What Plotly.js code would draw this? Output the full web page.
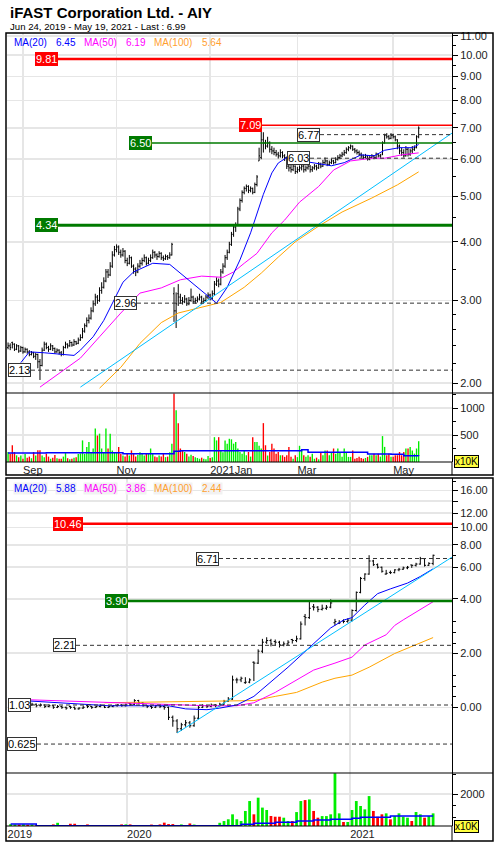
<!DOCTYPE html>
<html><head><meta charset="utf-8">
<script src="https://cdn.plot.ly/plotly-3.0.1.min.js"></script>
<style>html,body{margin:0;padding:0;background:#fff}#chart{width:500px;height:850px}</style>
</head><body><div id="chart"></div>
<script>
// ================= DATA =================
const titleText = 'iFAST Corporation Ltd. - AIY';
const subtitleText = 'Jun 24, 2019 - May 19, 2021 - Last : 6.99';
const maNames = ['MA(20)', 'MA(50)', 'MA(100)'];
const topMALast = ['6.45', '6.19', '5.64'];
const botMALast = ['5.88', '3.86', '2.44'];

// ---- daily (top chart) ----
const dailyStart = '2020-08-21';
const dOpen = [2.38,2.40,2.44,2.42,2.36,2.40,2.34,2.38,2.33,2.36,
2.33,2.30,2.32,2.28,2.30,2.22,2.18,2.35,2.42,2.38,
2.36,2.40,2.37,2.33,2.35,2.32,2.30,2.38,2.42,2.40,
2.44,2.41,2.45,2.43,2.47,2.50,2.58,2.65,2.72,2.75,
2.85,2.95,3.05,3.00,3.15,3.20,3.30,3.45,3.40,3.55,
3.75,3.85,3.90,3.80,3.75,3.82,3.65,3.60,3.70,3.55,
3.50,3.45,3.55,3.60,3.65,3.70,3.60,3.65,3.70,3.80,
3.75,3.72,3.78,3.70,3.68,3.72,3.70,3.75,3.10,2.85,
3.10,3.05,3.00,2.98,3.02,2.95,3.00,3.05,2.98,3.00,
3.02,3.05,2.98,3.00,3.05,3.08,3.03,3.10,3.25,3.30,
3.25,3.45,3.55,3.70,3.80,3.95,4.15,4.30,4.35,4.70,
4.90,5.10,5.20,5.25,5.15,5.20,5.10,5.30,5.95,6.05,
6.60,6.50,6.40,6.50,6.30,6.25,6.20,6.15,6.10,6.20,
6.10,6.05,5.80,5.75,5.70,5.80,5.65,5.70,5.75,5.80,
5.70,5.75,5.80,5.70,5.75,5.80,5.75,5.85,5.80,5.90,
5.95,5.85,5.90,5.95,5.90,6.00,6.05,6.10,6.15,6.20,
6.30,6.35,6.40,6.30,6.25,6.20,6.15,6.10,6.05,6.10,
6.00,6.05,6.10,6.05,6.15,6.10,6.15,6.50,6.75,6.70,
6.65,6.75,6.70,6.60,6.40,6.25,6.20,6.10,6.30,6.15,
6.25,6.30,6.35,6.70];
const dHigh = [2.44,2.43,2.45,2.43,2.42,2.41,2.40,2.39,2.38,2.37,
2.35,2.34,2.33,2.32,2.31,2.25,2.38,2.45,2.44,2.40,
2.43,2.41,2.38,2.37,2.36,2.34,2.40,2.45,2.43,2.47,
2.45,2.48,2.46,2.50,2.54,2.62,2.68,2.76,2.80,2.90,
3.00,3.10,3.08,3.20,3.28,3.36,3.50,3.50,3.62,3.82,
3.92,3.95,3.93,3.85,3.88,3.84,3.70,3.75,3.72,3.58,
3.53,3.60,3.66,3.70,3.76,3.72,3.70,3.76,3.85,3.82,
3.78,3.82,3.80,3.74,3.76,3.75,3.80,3.98,3.20,3.12,
3.25,3.10,3.05,3.08,3.04,3.05,3.18,3.07,3.04,3.06,
3.10,3.07,3.04,3.08,3.12,3.10,3.15,3.30,3.36,3.34,
3.50,3.60,3.75,3.85,4.00,4.20,4.35,4.40,4.75,4.95,
5.15,5.25,5.30,5.28,5.25,5.22,5.35,5.55,6.35,7.00,
6.85,6.60,6.70,6.55,6.40,6.35,6.28,6.22,6.30,6.24,
6.15,6.08,5.88,5.85,5.90,5.82,5.78,5.82,5.88,5.84,
5.82,5.88,5.83,5.80,5.86,5.84,5.92,5.90,5.98,6.05,
5.98,5.96,6.02,5.98,6.06,6.12,6.16,6.22,6.28,6.36,
6.40,6.45,6.42,6.34,6.30,6.26,6.20,6.14,6.16,6.12,
6.10,6.15,6.12,6.20,6.18,6.16,6.55,6.80,6.82,6.76,
6.82,6.80,6.74,6.62,6.45,6.35,6.30,6.40,6.35,6.32,
6.40,6.42,6.75,7.05];
const dLow = [2.36,2.35,2.37,2.34,2.35,2.32,2.33,2.31,2.32,2.31,
2.28,2.29,2.26,2.24,2.15,2.03,2.17,2.34,2.36,2.33,
2.35,2.34,2.31,2.32,2.30,2.28,2.29,2.37,2.37,2.39,
2.39,2.40,2.41,2.42,2.46,2.49,2.56,2.63,2.68,2.73,
2.83,2.92,2.95,2.98,3.10,3.18,3.28,3.35,3.38,3.52,
3.72,3.80,3.75,3.70,3.72,3.60,3.55,3.58,3.52,3.42,
3.38,3.43,3.52,3.56,3.62,3.56,3.58,3.62,3.68,3.70,
3.66,3.70,3.66,3.64,3.66,3.66,3.68,3.74,2.70,2.62,
2.92,2.95,2.94,2.96,2.92,2.93,2.98,2.95,2.95,2.97,
3.00,2.95,2.96,2.98,3.02,3.00,3.01,3.08,3.22,3.20,
3.23,3.42,3.52,3.66,3.78,3.92,4.10,4.20,4.33,4.65,
4.85,5.05,5.12,5.08,5.10,5.05,5.08,5.25,5.95,6.00,
6.20,6.30,6.35,6.20,6.15,6.12,6.08,6.02,6.05,6.03,
5.95,5.72,5.65,5.62,5.66,5.58,5.60,5.64,5.68,5.62,
5.65,5.70,5.62,5.64,5.70,5.68,5.72,5.74,5.78,5.86,
5.80,5.82,5.86,5.85,5.88,5.96,6.00,6.06,6.10,6.16,
6.24,6.30,6.25,6.18,6.14,6.10,6.04,6.00,6.02,5.96,
5.97,6.02,6.00,6.02,6.05,6.04,6.12,6.48,6.64,6.60,
6.62,6.64,6.55,6.30,6.15,6.10,6.05,6.08,6.08,6.10,
6.18,6.25,6.33,6.65];
const dClose = [2.40,2.38,2.42,2.36,2.40,2.34,2.38,2.33,2.36,2.33,
2.30,2.32,2.28,2.30,2.22,2.18,2.35,2.42,2.38,2.36,
2.40,2.37,2.33,2.35,2.32,2.30,2.38,2.42,2.40,2.44,
2.41,2.45,2.43,2.47,2.50,2.58,2.65,2.72,2.75,2.85,
2.95,3.05,3.00,3.15,3.20,3.30,3.45,3.40,3.55,3.75,
3.85,3.90,3.80,3.75,3.82,3.65,3.60,3.70,3.55,3.50,
3.45,3.55,3.60,3.65,3.70,3.60,3.65,3.70,3.80,3.75,
3.72,3.78,3.70,3.68,3.72,3.70,3.75,3.95,2.85,2.95,
3.05,3.00,2.98,3.02,2.95,3.00,3.05,2.98,3.00,3.02,
3.05,2.98,3.00,3.05,3.08,3.03,3.10,3.25,3.30,3.25,
3.45,3.55,3.70,3.80,3.95,4.15,4.30,4.35,4.70,4.90,
5.10,5.20,5.25,5.15,5.20,5.10,5.30,5.50,6.10,6.60,
6.50,6.40,6.50,6.30,6.25,6.20,6.15,6.10,6.20,6.10,
6.05,5.80,5.75,5.70,5.80,5.65,5.70,5.75,5.80,5.70,
5.75,5.80,5.70,5.75,5.80,5.75,5.85,5.80,5.90,5.95,
5.85,5.90,5.95,5.90,6.00,6.05,6.10,6.15,6.20,6.30,
6.35,6.40,6.30,6.25,6.20,6.15,6.10,6.05,6.10,6.00,
6.05,6.10,6.05,6.15,6.10,6.10,6.50,6.75,6.70,6.65,
6.75,6.70,6.60,6.40,6.25,6.20,6.10,6.30,6.15,6.25,
6.30,6.35,6.70,6.99];
// daily volume, x10K shares
const dVol = [185,154,310,185,123,90,120,60,150,80,
100,70,185,120,216,216,120,90,150,100,
60,80,130,70,60,60,100,185,70,50,
60,80,90,150,160,
400,150,280,370,185,250,620,490,525,250,185,620,250,525,215,185,180,280,
150,120,100,160,120,215,160,100,130,180,150,120,160,160,250,150,100,90,120,100,150,90,100,180,
340,1270,960,720,
250,215,185,155,100,135,110,90,75,60,80,60,50,110,75,90,
460,400,460,215,180,400,340,430,420,340,370,250,185,155,
215,125,185,100,460,370,370,300,250,
720,
310,120,185,340,250,155,185,125,125,
95,125,280,95,60,125,90,300,215,125,
95,125,95,155,60,80,50,185,125,215,
215,125,185,250,155,250,185,95,250,185,
95,95,215,60,75,95,75,60,75,95,
125,125,155,125,155,100,
480,
280,125,155,95,95,125,125,185,125,185,
250,250,280,215,155,250,385];
// moving averages: bar number (1 = first bar) and value
const dMA20Idx = [7,11,18,32,35,41,46,51,55,60,65,69,77,99,104,110,115,118,121,125,128,132,139,147,153,159,167,173,178,185,191,194];
const dMA20Val = [2.21,2.33,2.32,2.29,2.35,2.51,2.72,3.01,3.28,3.45,3.53,3.60,3.58,2.96,3.20,3.66,4.18,4.61,5.05,5.61,5.89,6.05,5.95,5.87,5.81,5.90,6.13,6.10,6.27,6.35,6.35,6.45];
const dMA50Idx = [16,26,35,44,54,63,73,82,92,102,107,112,118,125,131,138,145,147,154,162,172,178,186,194];
const dMA50Val = [1.96,2.11,2.26,2.51,2.82,3.11,3.19,3.32,3.38,3.36,3.45,3.60,3.78,4.18,4.45,4.86,5.16,5.25,5.69,5.95,6.03,6.03,6.13,6.19];
const dMA100Idx = [44,54,63,73,81,92,101,112,120,128,136,147,158,172,184,194];
const dMA100Val = [1.95,2.16,2.43,2.69,2.82,2.90,2.97,3.20,3.43,3.71,4.00,4.32,4.63,4.96,5.29,5.64];
const dVMAIdx = [1,19,55,79,82,139,142,166,170,181,187,194];
const dVMAVal = [167,173,154,197,210,228,179,179,150,142,117,115];
const topTrendStartIdx = 35;
const topTrendVals = [1.96, 6.82];
const topLevels = [9.81, 7.09, 6.50, 4.34, 6.77, 6.03, 2.96, 2.13];
const topTickVals = [2,3,4,5,6,7,8,9,10,11];
const topMinorVals = [2.2,2.4,2.6,2.8,3.5,4.5,5.5,6.5,7.5,8.5,9.5,10.5];
const topMonthTicks = ['2020-09-01','2020-11-02','2021-01-01','2021-03-01','2021-05-03'];
const topMonthText = ['Sep','Nov','2021Jan','Mar','May'];

// ---- weekly (bottom chart) ----
const weeklyStart = '2019-06-24';
const wOpen = [1.04,1.05,1.07,1.04,1.05,1.03,1.04,1.02,1.03,1.01,
1.02,1.00,1.01,1.00,1.01,1.00,0.98,0.99,1.02,1.01,
1.00,1.01,1.02,1.00,1.01,1.02,1.03,1.02,1.05,1.04,
1.09,1.06,1.02,1.01,1.00,1.02,1.01,1.00,0.88,0.84,
0.76,0.80,0.82,0.79,0.87,1.00,1.02,1.01,1.03,1.02,
1.04,1.08,1.11,1.42,1.42,1.37,1.38,1.78,1.76,2.05,
2.30,2.35,2.32,2.30,2.22,2.25,2.38,2.35,2.40,3.20,
3.15,3.62,3.60,3.50,3.55,3.60,2.95,2.93,3.02,3.00,
3.05,3.45,4.35,5.20,5.50,6.50,6.20,6.00,5.50,5.62,
5.60,5.80,5.85,5.95,6.18,6.15,6.25,6.70,6.15,6.30];
const wHigh = [1.08,1.09,1.08,1.07,1.06,1.06,1.05,1.05,1.04,1.04,
1.03,1.03,1.02,1.01,1.02,1.01,1.00,1.02,1.03,1.02,
1.02,1.04,1.03,1.02,1.03,1.04,1.04,1.05,1.06,1.11,
1.10,1.07,1.03,1.02,1.03,1.03,1.02,1.01,0.90,0.86,
0.82,0.85,0.84,0.90,1.02,1.04,1.03,1.05,1.04,1.06,
1.10,1.14,1.50,1.46,1.48,1.47,1.45,1.80,2.10,2.40,
2.45,2.40,2.38,2.34,2.32,2.36,2.40,2.50,3.00,3.30,
3.92,3.75,3.65,3.72,3.70,3.98,3.10,3.05,3.08,3.12,
3.50,4.40,5.30,5.55,7.00,6.60,6.30,6.05,5.80,5.75,
5.85,5.95,6.05,6.10,6.20,6.35,6.85,6.75,6.40,7.05];
const wLow = [1.02,1.04,1.02,1.03,1.01,1.02,1.00,1.01,0.99,1.00,
0.98,0.99,0.98,0.97,0.98,0.97,0.97,0.98,0.99,0.98,
0.99,1.00,0.99,0.99,1.00,1.01,1.01,1.01,1.02,1.03,
1.04,1.01,0.99,0.98,0.99,0.99,0.97,0.85,0.78,0.72,
0.74,0.78,0.77,0.78,0.86,0.99,0.99,1.00,1.00,1.01,
1.03,1.07,1.10,1.36,1.38,1.35,1.36,1.40,1.74,2.00,
2.25,2.18,2.20,2.15,2.18,2.20,2.26,2.30,2.38,2.85,
3.10,3.45,3.38,3.45,3.48,3.55,2.85,2.90,2.93,2.95,
3.00,3.40,4.30,5.05,5.45,6.10,5.90,5.60,5.45,5.50,
5.55,5.70,5.80,5.85,5.95,6.05,6.20,6.05,6.10,6.15];
const wClose = [1.05,1.07,1.04,1.05,1.03,1.04,1.02,1.03,1.01,1.02,
1.00,1.01,1.00,0.99,1.00,0.98,0.99,1.00,1.01,1.00,
1.01,1.02,1.00,1.01,1.02,1.03,1.02,1.03,1.04,1.09,
1.06,1.02,1.01,1.00,1.02,1.01,1.00,0.88,0.84,0.76,
0.80,0.82,0.79,0.87,1.00,1.02,1.01,1.03,1.02,1.04,
1.08,1.11,1.42,1.42,1.45,1.38,1.42,1.76,2.05,2.30,
2.35,2.25,2.30,2.22,2.25,2.30,2.35,2.40,2.90,3.15,
3.55,3.60,3.50,3.55,3.60,3.80,3.00,2.95,3.00,3.05,
3.45,4.35,5.20,5.50,6.50,6.20,6.00,5.70,5.55,5.60,
5.80,5.85,5.95,6.00,6.15,6.25,6.70,6.15,6.30,6.99];
const wVol = [120,100,90,110,80,100,40,50,30,60,
100,200,40,50,140,140,30,40,100,40,
30,50,40,30,50,40,100,100,100,40,
50,30,40,90,40,100,210,120,120,50,
100,40,160,90,40,50,30,40,60,200,
310,420,730,420,310,940,1560,730,1770,1150,
1000,625,580,580,520,310,310,870,1560,1620,
1660,940,520,620,620,730,3300,790,250,250,
1000,1560,1250,1040,1870,940,580,730,790,416,
625,790,583,520,312,875,730,520,625,790];
const wMA20Idx = [0,11,23,37,40,41,46,49,53,57,65,70,75,78,80,83,86,89,93,96,99];
const wMA20Val = [1.10,1.06,1.02,1.02,0.99,0.98,0.97,0.99,1.03,1.15,1.67,2.16,2.76,3.05,3.15,3.70,4.28,4.55,4.90,5.33,5.88];
const wMA50Idx = [0,15,23,37,46,53,57,62,66,71,76,80,83,88,90,92,99];
const wMA50Val = [1.11,1.08,1.06,1.04,1.02,1.02,1.06,1.21,1.38,1.61,1.76,1.90,2.22,2.53,2.85,3.06,3.86];
const wMA100Idx = [22,37,57,62,67,73,76,80,84,90,99];
const wMA100Val = [1.06,1.07,1.09,1.15,1.21,1.38,1.45,1.51,1.67,1.99,2.44];
const wVMAIdx = [0,6,54,57,62,67,71,75,80,82,89,99];
const wVMAVal = [125,20,104,166,229,312,375,416,479,541,625,625];
const botTrendStartIdx = 39;
const botTrendVals = [0.72, 6.83];
const botLevels = [10.46, 6.71, 3.90, 2.21, 1.03, 0.625];
const botTickVals = [1,2,4,6,8,10,12,14,16];
const botTickText = ['0.00','2.00','4.00','6.00','8.00','10.00','12.00','','16.00'];
const botMinorVals = [1.15,1.3,1.5,2.25,2.6,3,7,18];
const botYearTicks = ['2019-06-19','2020-01-01','2021-01-01'];
const botYearText = ['2019','2020','2021'];

// ================= LAYOUT HELPERS =================
const FONT = 'Liberation Sans, Arial, sans-serif';
const X = px => (px - 7) / 445;
const Y = py => 1 - py / 850;
const topRange = ['2020-08-20 12:00', '2021-06-09 16:00'];
const botRange = ['2019-06-18', '2021-06-17'];

function businessDays(start, count) {
  const out = []; const d = new Date(start + 'T00:00:00Z');
  while (out.length < count) {
    const g = d.getUTCDay();
    if (g !== 0 && g !== 6) out.push(d.toISOString().slice(0, 10));
    d.setUTCDate(d.getUTCDate() + 1);
  }
  return out;
}
function weekStarts(start, count) {
  const out = []; const d = new Date(start + 'T00:00:00Z');
  for (let i = 0; i < count; i++) { out.push(d.toISOString().slice(0, 10)); d.setUTCDate(d.getUTCDate() + 7); }
  return out;
}
const dDates = businessDays(dailyStart, dClose.length);
const wDates = weekStarts(weeklyStart, wClose.length);

const GREEN_V = '#00ee00', RED_V = '#ff0000';
const C20 = '#0000ff', C50 = '#ff00ff', C100 = '#ffa500', CTR = '#00bfff';

const traces = [];
function line(xs, ys, color, xa, ya, width, shape) {
  traces.push({type: 'scatter', mode: 'lines', x: xs, y: ys, xaxis: xa, yaxis: ya,
    line: {color: color, width: width || 1, shape: shape || 'linear'}, hoverinfo: 'skip'});
}
// --- top chart ---
line(dMA100Idx.map(i => dDates[i - 1]), dMA100Val, C100, 'x', 'y');
line(dMA50Idx.map(i => dDates[i - 1]), dMA50Val, C50, 'x', 'y');
line(dMA20Idx.map(i => dDates[i - 1]), dMA20Val, C20, 'x', 'y');
line([dDates[topTrendStartIdx - 1], topRange[1]], topTrendVals, CTR, 'x', 'y');
traces.push({type: 'ohlc', x: dDates, open: dOpen, high: dHigh, low: dLow, close: dClose,
  xaxis: 'x', yaxis: 'y', tickwidth: 0.45, hoverinfo: 'skip',
  increasing: {line: {color: '#000', width: 1}}, decreasing: {line: {color: '#000', width: 1}}});
traces.push({type: 'bar', x: dDates, y: dVol, xaxis: 'x', yaxis: 'y2', hoverinfo: 'skip',
  marker: {color: dClose.map((c, i) => c >= dOpen[i] ? GREEN_V : RED_V), line: {width: 0}}});
line(dVMAIdx.map(i => dDates[i - 1]), dVMAVal, '#0000ff', 'x', 'y2', 1.5, 'hv');
// --- bottom chart ---
line(wMA100Idx.map(i => wDates[i]), wMA100Val, C100, 'x2', 'y3');
line(wMA50Idx.map(i => wDates[i]), wMA50Val, C50, 'x2', 'y3');
line(wMA20Idx.map(i => wDates[i]), wMA20Val, C20, 'x2', 'y3');
line([wDates[botTrendStartIdx], botRange[1]], botTrendVals, CTR, 'x2', 'y3');
traces.push({type: 'ohlc', x: wDates, open: wOpen, high: wHigh, low: wLow, close: wClose,
  xaxis: 'x2', yaxis: 'y3', tickwidth: 0.35, hoverinfo: 'skip',
  increasing: {line: {color: '#000', width: 1}}, decreasing: {line: {color: '#000', width: 1}}});
traces.push({type: 'bar', x: wDates, y: wVol, xaxis: 'x2', yaxis: 'y4', hoverinfo: 'skip',
  marker: {color: wClose.map((c, i) => c >= wOpen[i] ? GREEN_V : RED_V), line: {width: 0}}});
line(wVMAIdx.map(i => wDates[i]), wVMAVal, '#0000ff', 'x2', 'y4', 1.5, 'hv');

// --- shapes & annotations ---
const shapes = [], ann = [];
const fmt = v => v.toFixed(3).replace(/0$/, '');
// [kind, line width, pixel x of the label's right edge]
const topLevelFmt = [['red',2.5,58],['red',1.5,262],['green',1.5,152],['green',3,58],['dash',1,320],['dash',1,310],['dash',1,137],['dash',1,31]];
const botLevelFmt = [['red',2.5,83],['dash',1,219],['green',2.5,128],['dash',1,76],['dash',1,31],['dash',1,37]];
function levels(vals, fmts, xa, ya) {
  vals.forEach((v, i) => {
    const [kind, w, px] = fmts[i];
    const col = kind === 'red' ? '#ff0000' : kind === 'green' ? '#007a00' : '#333';
    shapes.push({type: 'line', xref: xa + ' domain', x0: X(px), x1: 1, yref: ya, y0: v, y1: v,
      line: {color: col, width: w, dash: kind === 'dash' ? '4px,3px' : 'solid'}, layer: 'above'});
    ann.push({xref: xa + ' domain', x: X(px), xanchor: 'right', yref: ya, y: Math.log10(v), yanchor: 'middle',
      text: fmt(v), showarrow: false, borderpad: 0, borderwidth: 1,
      bgcolor: kind === 'dash' ? '#fff' : col, bordercolor: kind === 'dash' ? '#333' : col,
      font: {family: FONT, size: 11, color: kind === 'dash' ? '#000' : '#fff'}});
  });
}
levels(topLevels, topLevelFmt, 'x', 'y');
levels(botLevels, botLevelFmt, 'x2', 'y3');

const frame = {color: '#000', width: 1.5};
shapes.push({type: 'rect', xref: 'paper', yref: 'paper', x0: X(6), x1: X(493), y0: Y(475), y1: Y(33), line: frame});
shapes.push({type: 'rect', xref: 'paper', yref: 'paper', x0: X(6), x1: X(493), y0: Y(841), y1: Y(478), line: frame});
[[393, 493], [773, 493], [462, 452], [826, 452]].forEach(([py, xr]) =>
  shapes.push({type: 'line', xref: 'paper', yref: 'paper', x0: X(6), x1: X(xr), y0: Y(py), y1: Y(py), line: {color: '#000', width: 1.2}}));
[[462, 475], [826, 841]].forEach(([a, b]) =>
  shapes.push({type: 'line', xref: 'paper', yref: 'paper', x0: 1, x1: 1, y0: Y(b), y1: Y(a), line: {color: '#000', width: 1}}));

ann.push({xref: 'paper', yref: 'paper', x: X(8), y: Y(13), xanchor: 'left', yanchor: 'middle', showarrow: false,
  text: '<b>' + titleText + '</b>', font: {family: FONT, size: 15, color: '#000'}});
ann.push({xref: 'paper', yref: 'paper', x: X(8), y: Y(26), xanchor: 'left', yanchor: 'middle', showarrow: false,
  text: subtitleText, font: {family: FONT, size: 9.6, color: '#000'}});
const legX = [13, 55, 83, 125, 153, 201];
const legCol = [C20, C20, C50, C50, '#ffa030', '#ffa030'];
function legend(vals, py, bg) {
  const items = [maNames[0], vals[0], maNames[1], vals[1], maNames[2], vals[2]];
  items.forEach((t, i) => ann.push({xref: 'paper', yref: 'paper', x: X(legX[i]), y: Y(py), xanchor: 'left', yanchor: 'middle',
    showarrow: false, text: t, bgcolor: bg, borderpad: 0, font: {family: FONT, size: 10, color: legCol[i]}}));
}
legend(topMALast, 42, 'rgba(0,0,0,0)');
legend(botMALast, 488, '#f2f2f2');
[461, 826].forEach(py => ann.push({xref: 'paper', yref: 'paper', x: X(454), y: Y(py), xanchor: 'left', yanchor: 'middle',
  showarrow: false, text: 'x10K', bgcolor: '#ffff40', bordercolor: '#000', borderwidth: 1, borderpad: 0,
  font: {family: FONT, size: 10, color: '#000'}}));

const tickfont = {family: FONT, size: 11, color: '#222'};
const GRID = '#e6e6e6';
function yax(domain, extra) {
  return Object.assign({domain: domain, side: 'right', showline: true, linecolor: '#000', linewidth: 1,
    ticks: 'outside', ticklen: 5, tickcolor: '#000', tickfont: tickfont, gridcolor: GRID, gridwidth: 1.5,
    zeroline: false, fixedrange: true, tickmode: 'array'}, extra);
}
function minor(vals) { return {tickvals: vals, ticks: 'outside', ticklen: 3, tickcolor: '#000', showgrid: false}; }

const layout = {
  width: 500, height: 850, margin: {l: 7, r: 48, t: 0, b: 0},
  paper_bgcolor: '#fff', plot_bgcolor: '#fff', showlegend: false, bargap: 0.35,
  font: {family: FONT},
  xaxis: {domain: [0, 1], anchor: 'y2', type: 'date', range: topRange, rangebreaks: [{bounds: ['sat', 'mon']}],
    rangeslider: {visible: false}, tickmode: 'array', tickvals: topMonthTicks, ticktext: topMonthText,
    ticklabelposition: 'outside right', ticks: '', showgrid: true, gridcolor: GRID, gridwidth: 1.5,
    showline: false, zeroline: false, tickfont: tickfont, fixedrange: true},
  xaxis2: {domain: [0, 1], anchor: 'y4', type: 'date', range: botRange,
    rangeslider: {visible: false}, tickmode: 'array', tickvals: botYearTicks, ticktext: botYearText,
    ticklabelposition: 'outside right', ticks: '', showgrid: true, gridcolor: GRID, gridwidth: 1.5,
    showline: false, zeroline: false, tickfont: tickfont, fixedrange: true},
  yaxis: yax([Y(393), Y(33)], {anchor: 'x', type: 'log', range: [0.27971, 1.04730],
    tickvals: topTickVals, ticktext: topTickVals.map(v => v.toFixed(2)), minor: minor(topMinorVals)}),
  yaxis2: yax([Y(462), Y(393)], {anchor: 'x', range: [0, 1278], tickvals: [500, 1000], ticktext: ['500', '1000'],
    minor: minor([250, 750, 1250])}),
  yaxis3: yax([Y(773), Y(478)], {anchor: 'x2', type: 'log', range: [-0.36494, 1.27395],
    tickvals: botTickVals, ticktext: botTickText, minor: minor(botMinorVals)}),
  yaxis4: yax([Y(826), Y(773)], {anchor: 'x2', range: [0, 3312], tickvals: [2000], ticktext: ['2000'],
    minor: minor([560, 1310, 3190])}),
  shapes: shapes, annotations: ann
};
Plotly.newPlot('chart', traces, layout, {staticPlot: true, displayModeBar: false});
</script></body></html>
